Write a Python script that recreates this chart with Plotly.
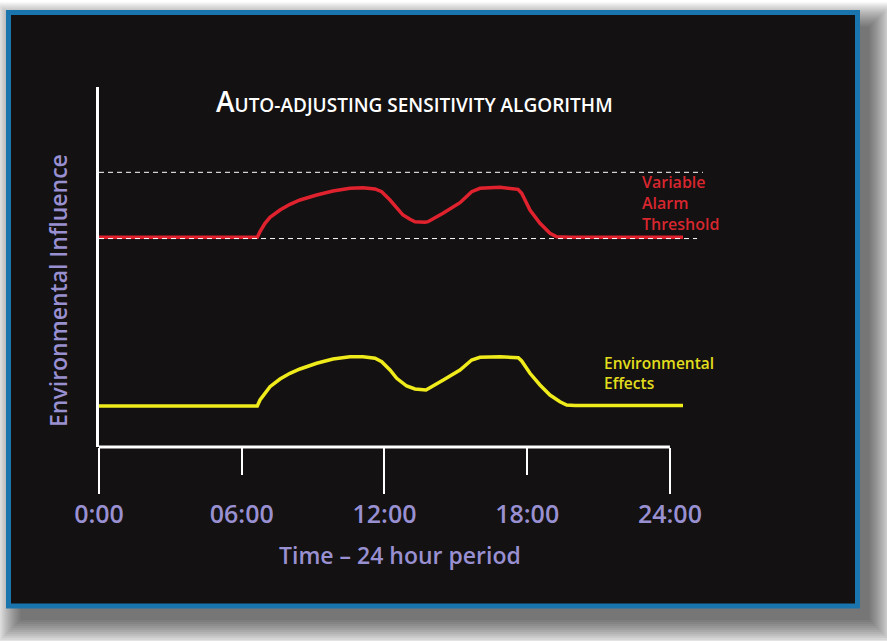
import plotly.graph_objects as go

# time axis (hours) and levels
tick_hours = [0, 6, 12, 18, 24]
tick_text = ["0:00", "06:00", "12:00", "18:00", "24:00"]
long_tick_hours = [0, 12, 24]

threshold_hours = [0, 6.654, 6.768, 6.978, 7.188, 7.608, 8.029, 8.449, 9.151, 9.836,
                   10.551, 11.097, 11.602, 11.883, 12.232, 12.514, 12.778, 13.073, 13.283,
                   13.703, 13.829, 14.460, 15.174, 15.666, 16.015, 16.856, 17.613, 17.768,
                   18.117, 18.537, 18.958, 19.240, 19.80, 24.55]
threshold = [58.25, 58.25, 59.81, 62.14, 63.81, 65.83, 67.42, 68.61, 70.00, 71.11,
             71.86, 72.03, 71.67, 70.92, 68.61, 66.31, 64.44, 63.25, 62.58,
             62.42, 62.58, 64.92, 67.86, 70.92, 71.86, 72.14, 71.58, 70.47,
             65.83, 62.14, 59.36, 58.42, 58.25, 58.25]

env_hours = [0, 6.654, 6.768, 6.978, 7.188, 7.608, 8.029, 8.449, 9.151, 9.836,
             10.551, 11.097, 11.602, 11.883, 12.232, 12.514, 12.652, 12.934, 13.283,
             13.745, 14.473, 15.174, 15.666, 16.015, 16.856, 17.625, 17.768,
             18.117, 18.537, 18.958, 19.378, 19.660, 20.01, 24.55]
env_effects = [11.39, 11.39, 13.06, 15.08, 16.75, 18.89, 20.47, 21.67, 23.25, 24.44,
               25.08, 25.08, 24.64, 23.69, 21.39, 19.08, 18.33, 16.94, 16.11,
               15.83, 18.61, 21.39, 24.17, 24.92, 25.08, 24.81, 23.89,
               20.47, 17.22, 14.44, 12.58, 11.67, 11.53, 11.53]

upper_bound_hours = [0, 25.39]
upper_bound = [76.3, 76.3]
lower_bound_hours = [0, 25.14]
lower_bound = [57.9, 57.9]

W, H = 887, 641
ML, MR, MT, MB = 99, 179, 87, 194
PW, PH = W - ML - MR, H - MT - MB

LAV = "#9990d2"
RED = "#e0222e"
YEL = "#f0ec1c"
PANEL = "#131111"
FONT = "Open Sans"


def px(x):
    return (x - ML) / PW


def py(y):
    return (H - MB - y) / PH


fig = go.Figure()

fig.add_trace(go.Scatter(x=threshold_hours, y=threshold, mode="lines",
                         line=dict(color=RED, width=3.5), hoverinfo="skip"))
fig.add_trace(go.Scatter(x=env_hours, y=env_effects, mode="lines",
                         line=dict(color=YEL, width=3.5), hoverinfo="skip"))
fig.add_trace(go.Scatter(x=upper_bound_hours, y=upper_bound, mode="lines", xaxis="x2",
                         line=dict(color="white", width=1, dash="5px,4px"), hoverinfo="skip"))
fig.add_trace(go.Scatter(x=lower_bound_hours, y=lower_bound, mode="lines", xaxis="x2",
                         line=dict(color="white", width=1, dash="5px,4px"), hoverinfo="skip"))

shapes = []
# drop shadow
for s in range(24, -1, -2):
    shapes.append(dict(type="rect", xref="paper", yref="paper", layer="below",
                       x0=px(8.5 + 12 - s), x1=px(857.5 + 12 + s),
                       y0=py(606 + 14 + s), y1=py(12.5 + 14 - s),
                       fillcolor="black", opacity=0.055, line=dict(width=0)))
# panel with blue frame
shapes.append(dict(type="rect", xref="paper", yref="paper", layer="below",
                   x0=px(8.5), x1=px(857.5), y0=py(606), y1=py(12.5),
                   fillcolor=PANEL, line=dict(color="#1a74ad", width=5)))
# x axis line, only from 0:00 to 24:00
shapes.append(dict(type="line", xref="x", yref="paper", x0=0, x1=24, y0=0, y1=0,
                   line=dict(color="white", width=3), layer="above"))

annotations = [
    dict(text="<span style='font-size:28px'>A</span>UTO-ADJUSTING SENSITIVITY ALGORITHM",
         xref="x", yref="y", x=4.85, y=96, xanchor="left", yanchor="middle",
         showarrow=False, font=dict(family=FONT, size=19, color="white", weight=600)),
    dict(text="Variable<br>Alarm<br>Threshold", xref="x", yref="y", x=22.74, y=67.8,
         xanchor="left", yanchor="middle", align="left", showarrow=False,
         font=dict(family=FONT, size=16, color="#d8262f", weight=600)),
    dict(text="Environmental<br>Effects", xref="x", yref="y", x=21.13, y=20.6,
         xanchor="left", yanchor="middle", align="left", showarrow=False,
         font=dict(family=FONT, size=15.5, color="#e2de1d", weight=600)),
    dict(text="Environmental Influence", xref="paper", yref="paper", x=px(58), y=py(291),
         xanchor="center", yanchor="middle", textangle=-90, showarrow=False,
         font=dict(family=FONT, size=23, color=LAV, weight=600)),
    dict(text="Time – 24 hour period", xref="paper", yref="paper", x=px(400), y=py(555),
         xanchor="center", yanchor="middle", showarrow=False,
         font=dict(family=FONT, size=23, color=LAV, weight=600)),
]

fig.update_layout(
    width=W, height=H,
    margin=dict(l=ML, r=MR, t=MT, b=MB),
    paper_bgcolor="white", plot_bgcolor=PANEL,
    showlegend=False,
    shapes=shapes, annotations=annotations,
    xaxis=dict(range=[0, 25.6], tickvals=tick_hours, ticktext=tick_text,
               ticks="outside", ticklen=27, tickwidth=1.5, tickcolor="white",
               ticklabelstandoff=18,
               tickfont=dict(family=FONT, size=25, color=LAV, weight=600),
               showline=False, showgrid=False, zeroline=False, fixedrange=True),
    xaxis2=dict(range=[0, 25.6], overlaying="x", anchor="y", side="bottom",
                tickvals=long_tick_hours, ticks="outside", ticklen=46, tickwidth=1.5,
                tickcolor="white", showticklabels=False,
                showline=False, showgrid=False, zeroline=False),
    yaxis=dict(range=[0, 100], showline=True, linecolor="white", linewidth=2.5,
               showticklabels=False, ticks="", showgrid=False, zeroline=False),
)

# drop the default page margin so the figure sits at the window corner
fig.write_html("out.html", config={"displayModeBar": False},
               post_script="document.body.style.margin='0';")
